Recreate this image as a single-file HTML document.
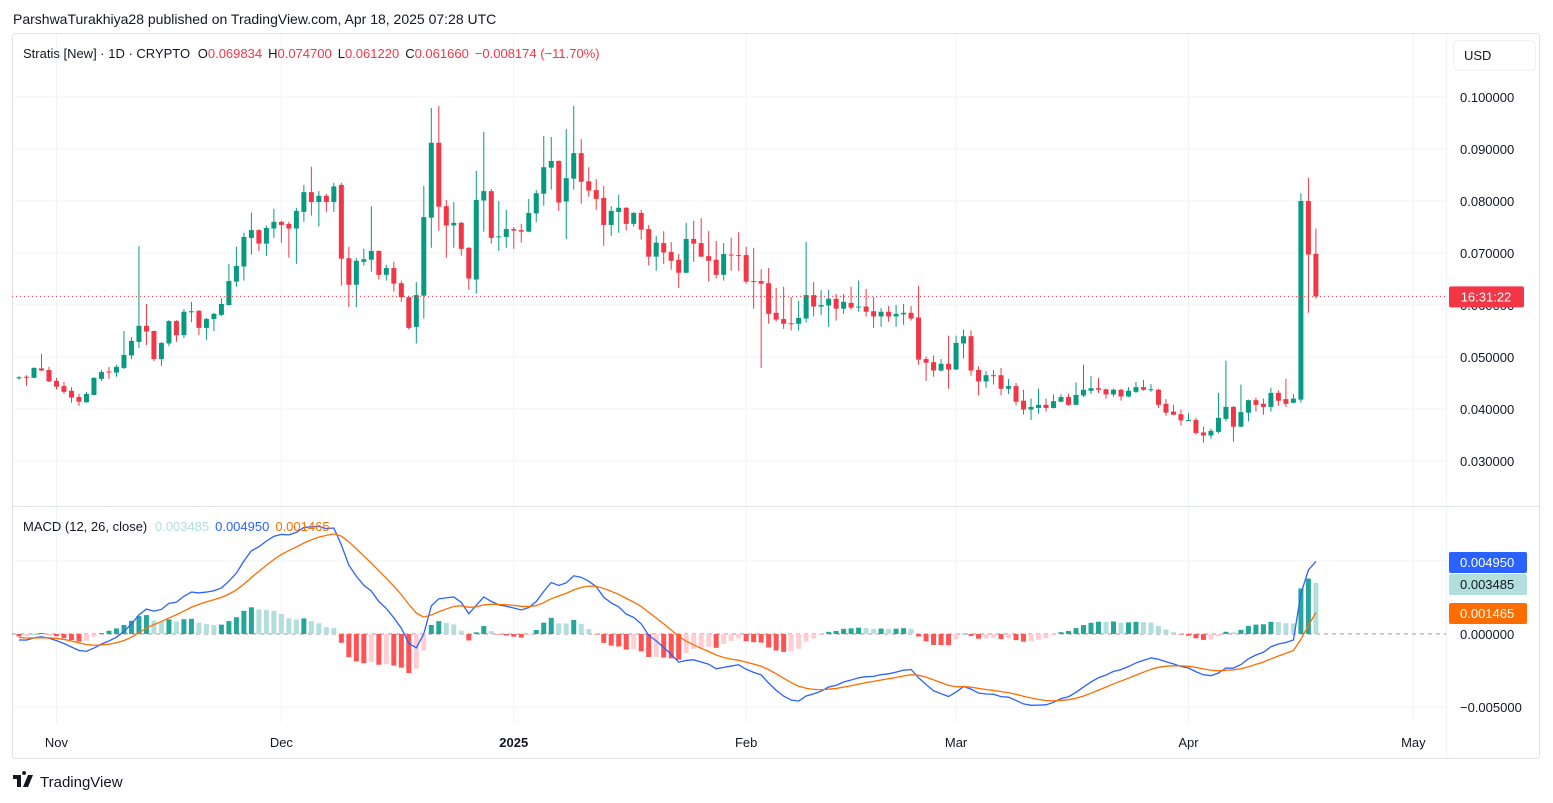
<!DOCTYPE html>
<html><head><meta charset="utf-8"><style>
html,body{margin:0;padding:0;background:#fff;}
svg{display:block;font-family:"Liberation Sans",sans-serif;}
</style></head><body>
<svg id="chart" width="1553" height="803" viewBox="0 0 1553 803" xmlns="http://www.w3.org/2000/svg">
<rect x="0" y="0" width="1553" height="803" fill="#fff"/>
<text x="13" y="24" font-size="14" fill="#131722">ParshwaTurakhiya28 published on TradingView.com, Apr 18, 2025 07:28 UTC</text>
<rect x="12.5" y="33.5" width="1527" height="725" fill="none" stroke="#e0e3eb" rx="3"/>
<g id="grid"></g>
<line x1="12" y1="506.5" x2="1540" y2="506.5" stroke="#e0e3eb"/>
<line x1="1446.5" y1="34" x2="1446.5" y2="758" stroke="#f0f3fa"/>
<g id="candles"></g>
<g id="macdpane"></g>
<g id="axes"></g>
<text x="23" y="58" font-size="13" fill="#131722">Stratis [New] · 1D · CRYPTO <tspan dx="4">O</tspan><tspan fill="#f23645">0.069834</tspan><tspan dx="6">H</tspan><tspan fill="#f23645">0.074700</tspan><tspan dx="6">L</tspan><tspan fill="#f23645">0.061220</tspan><tspan dx="6">C</tspan><tspan fill="#f23645">0.061660</tspan><tspan dx="6" fill="#f23645">−0.008174 (−11.70%)</tspan></text>
<text x="23" y="531" font-size="13" fill="#131722">MACD (12, 26, close) <tspan dx="4" fill="#b2dfdb">0.003485</tspan><tspan dx="6" fill="#2962ff">0.004950</tspan><tspan dx="6" fill="#ff6d00">0.001465</tspan></text>
<rect x="1453.5" y="40.5" width="82" height="30" rx="5" fill="#fff" stroke="#eef0f3"/>
<text x="1464" y="60" font-size="13" fill="#131722">USD</text>
<g>
<path d="M13 775 h8 v12 h-4 v-8 h-4z M24 775 a2 2 0 1 1 0.1 0z M28 775 h5 l-5 12 h-5z" fill="#131722"/>
<text x="40" y="787" font-size="15" fill="#131722">TradingView</text>
</g>
</svg>
<script>
const opens=[.0459,.0462,.0460,.0478,.0475,.0454,.0444,.0435,.0423,.0413,.0427,.0458,.0472,.0470,.0479,.0503,.0529,.0560,.0550,.0496,.0526,.0569,.0542,.0586,.0589,.0556,.0573,.0581,.0600,.0645,.0674,.0729,.0744,.0718,.0747,.0760,.0756,.0747,.0779,.0817,.0798,.0810,.0798,.0831,.0690,.0639,.0683,.0687,.0704,.0658,.0671,.0642,.0615,.0558,.0618,.0768,.0912,.0790,.0753,.0758,.0710,.0649,.0801,.0819,.0731,.0731,.0746,.0744,.0741,.0776,.0814,.0864,.0877,.0799,.0843,.0892,.0838,.0821,.0806,.0754,.0779,.0787,.0756,.0777,.0746,.0693,.0719,.0702,.0687,.0662,.0727,.0719,.0694,.0687,.0658,.0697,.0696,.0696,.0646,.0646,.0642,.0585,.0573,.0565,.0564,.0574,.0619,.0597,.0599,.0612,.0593,.0604,.0596,.0597,.0588,.0578,.0587,.0578,.0582,.0585,.0576,.0496,.0490,.0474,.0487,.0476,.0526,.0540,.0475,.0453,.0465,.0465,.0439,.0444,.0416,.0399,.0402,.0408,.0402,.0414,.0423,.0408,.0426,.0435,.0440,.0438,.0428,.0437,.0424,.0433,.0442,.0438,.0437,.0410,.0395,.0390,.0378,.0379,.0355,.0349,.0356,.0381,.0404,.0366,.0393,.0417,.0410,.0404,.0431,.0419,.0412,.0418,.0800,.069834];
const highs=[.0463,.0465,.0480,.0506,.0481,.0460,.0452,.0442,.0429,.0433,.0461,.0475,.0481,.0485,.0550,.0538,.0713,.0602,.0551,.0529,.0571,.0571,.0592,.0606,.0590,.0575,.0585,.0613,.0679,.0712,.0739,.0778,.0746,.0753,.0785,.0762,.0760,.0787,.0831,.0866,.0819,.0814,.0835,.0835,.0712,.0690,.0708,.0790,.0705,.0677,.0683,.0647,.0618,.0644,.0829,.0979,.0983,.0802,.0798,.0760,.0711,.0858,.0933,.0823,.0800,.0783,.0750,.0756,.0804,.0821,.0925,.0923,.0878,.0938,.0983,.0919,.0865,.0842,.0829,.0790,.0812,.0788,.0779,.0783,.0754,.0733,.0742,.0721,.0698,.0758,.0762,.0767,.0742,.0723,.0719,.0729,.0740,.0712,.0710,.0669,.0671,.0633,.0635,.0615,.0608,.0721,.0644,.0629,.0629,.0621,.0621,.0635,.0647,.0631,.0615,.0594,.0598,.0600,.0602,.0598,.0637,.0501,.0503,.0496,.0541,.0541,.0553,.0551,.0482,.0473,.0475,.0479,.0458,.0450,.0437,.0420,.0439,.0420,.0428,.0428,.0429,.0451,.0485,.0463,.0460,.0439,.0439,.0439,.0442,.0452,.0456,.0448,.0439,.0419,.0408,.0399,.0392,.0383,.0366,.0362,.0431,.0493,.0406,.0447,.0418,.0422,.0420,.0441,.0436,.0458,.0429,.0815,.0845,.0747];
const lows=[.0456,.0445,.0459,.0473,.0452,.0438,.0429,.0412,.0406,.0412,.0427,.0454,.0458,.0462,.0477,.0496,.0517,.0523,.0492,.0483,.0521,.0529,.0537,.0567,.0542,.0533,.0550,.0579,.0599,.0635,.0647,.0697,.0704,.0694,.0729,.0720,.0691,.0679,.0760,.0772,.0751,.0779,.0779,.0637,.0596,.0596,.0676,.0664,.0649,.0647,.0626,.0606,.0553,.0526,.0574,.0710,.0743,.0691,.0710,.0695,.0629,.0622,.0741,.0718,.0704,.0710,.0708,.0720,.0740,.0760,.0791,.0822,.0781,.0727,.0822,.0795,.0808,.0783,.0714,.0733,.0739,.0743,.0751,.0726,.0676,.0666,.0679,.0668,.0633,.0661,.0683,.0692,.0645,.0651,.0647,.0666,.0666,.0641,.0593,.0479,.0564,.0568,.0554,.0551,.0551,.0566,.0578,.0581,.0558,.0570,.0583,.0591,.0587,.0578,.0556,.0558,.0568,.0558,.0562,.0570,.0485,.0454,.0462,.0472,.0439,.0475,.0497,.0464,.0426,.0441,.0447,.0426,.0429,.0407,.0389,.0379,.0391,.0395,.0401,.0413,.0406,.0407,.0423,.0429,.0431,.0420,.0424,.0416,.0423,.0431,.0435,.0433,.0402,.0387,.0388,.0368,.0378,.0351,.0335,.0343,.0353,.0376,.0337,.0365,.0376,.0395,.0389,.0395,.0406,.0404,.0411,.0412,.0585,.061220];
const closes=[.0461,.0461,.0479,.0474,.0453,.0443,.0433,.0422,.0414,.0429,.0460,.0471,.0471,.0481,.0504,.0531,.0560,.0549,.0496,.0527,.0569,.0542,.0587,.0588,.0556,.0573,.0583,.0602,.0646,.0675,.0731,.0744,.0718,.0748,.0760,.0754,.0747,.0781,.0817,.0798,.0810,.0798,.0828,.0689,.0639,.0685,.0688,.0704,.0658,.0671,.0641,.0615,.0556,.0619,.0769,.0912,.0789,.0753,.0758,.0708,.0651,.0802,.0819,.0729,.0732,.0746,.0743,.0741,.0777,.0815,.0865,.0877,.0797,.0844,.0892,.0837,.0820,.0804,.0754,.0781,.0787,.0756,.0777,.0745,.0693,.0720,.0701,.0685,.0662,.0727,.0718,.0693,.0685,.0658,.0698,.0696,.0695,.0645,.0645,.0641,.0583,.0572,.0564,.0564,.0575,.0619,.0597,.0600,.0612,.0593,.0606,.0595,.0597,.0587,.0578,.0587,.0578,.0583,.0585,.0574,.0495,.0489,.0474,.0487,.0476,.0527,.0540,.0474,.0453,.0465,.0464,.0439,.0444,.0414,.0399,.0404,.0408,.0402,.0415,.0423,.0408,.0427,.0437,.0440,.0437,.0428,.0437,.0424,.0435,.0442,.0437,.0438,.0408,.0393,.0389,.0378,.0379,.0354,.0349,.0358,.0383,.0404,.0366,.0394,.0417,.0408,.0404,.0431,.0416,.0410,.0420,.0800,.0697,.061660];
const monthLabels=["Nov","Dec","2025","Feb","Mar","Apr","May"];
const monthIdx=[5,35,66,97,125,156,186];
const priceTicks=[0.03,0.04,0.05,0.06,0.07,0.08,0.09,0.10];
const macdTicks=[-0.005,0,0.005];
const macdPrinted=["0.004950","0.003485","0.001465"];
const emaSeeds=[0.0466,0.0470];
const signalSeed=[-0.0002];

const NS="http://www.w3.org/2000/svg";
function mk(tag,attrs,parent){const e=document.createElementNS(NS,tag);for(const k in attrs)e.setAttribute(k,attrs[k]);parent.appendChild(e);return e;}
const X=i=>19+i*7.4965;
const PY=p=>97+(0.1-p)*5200;
const MY=m=>634-m*14600;
const grid=document.getElementById('grid'),cg=document.getElementById('candles'),mg=document.getElementById('macdpane'),ax=document.getElementById('axes');

monthIdx.forEach((mi,k)=>{
  const l=mk('line',{x1:X(mi),x2:X(mi),y1:34,y2:723,stroke:'#f0f3fa'},grid);
  
  
  const t=mk('text',{x:X(mi),y:747,'font-size':13,fill:'#131722','text-anchor':'middle','font-weight':monthLabels[k]==='2025'?'bold':'normal'},ax);
  t.textContent=monthLabels[k];
  
  
});
priceTicks.forEach(p=>{
  const l=mk('line',{x1:12,x2:1446,y1:PY(p),y2:PY(p),stroke:'#f0f3fa'},grid);
  
  
  const t=mk('text',{x:1460,y:PY(p)+5,'font-size':13,fill:'#131722'},ax);
  t.textContent=p.toFixed(6);
  
  
});
macdTicks.forEach(m=>{
  if(m!==0){const l=mk('line',{x1:12,x2:1446,y1:MY(m),y2:MY(m),stroke:'#f0f3fa'},grid);
  
  }
  else{const l=mk('line',{x1:12,x2:1446,y1:MY(0),y2:MY(0),stroke:'#9598a1','stroke-dasharray':'4 4'},grid);
  
  }
  if(m>0) return;
  const t=mk('text',{x:1460,y:MY(m)+5,'font-size':13,fill:'#131722'},ax);
  t.textContent=(m<0?'−':'')+Math.abs(m).toFixed(6);
  
  
});

closes.forEach((c,i)=>{
  const o=opens[i],up=c>=o,col=up?'#089981':'#f23645',x=X(i);
  const w=mk('line',{x1:x,x2:x,y1:PY(highs[i]),y2:PY(lows[i]),stroke:col,'stroke-width':1},cg);
  
  
  const top=PY(Math.max(o,c)),bot=PY(Math.min(o,c));
  const b=mk('rect',{x:x-2.5,y:top,width:5,height:Math.max(1,bot-top),fill:col},cg);
  
  
});
const last=closes[closes.length-1];
const lp=mk('line',{x1:12,x2:1446,y1:PY(last),y2:PY(last),stroke:'#f23645','stroke-dasharray':'1 3'},cg);


const lr=mk('rect',{x:1449,y:PY(last)-10,width:75,height:21,fill:'#f23645',rx:2},ax);


const lt=mk('text',{x:1486,y:PY(last)+5,'font-size':13,fill:'#fff','text-anchor':'middle'},ax);
lt.textContent='16:31:22';



function ema(arr,n,seed){const k=2/(n+1);const out=[];let e=seed;arr.forEach(v=>{e=v*k+e*(1-k);out.push(e);});return out;}
const e12=ema(closes,12,emaSeeds[0]),e26=ema(closes,26,emaSeeds[1]);
const macd=closes.map((_,i)=>e12[i]-e26[i]);
const sig=ema(macd,9,signalSeed[0]);
const hist=macd.map((m,i)=>m-sig[i]);
hist.forEach((h,i)=>{
  const prev=i?hist[i-1]:0;
  const col=h>=0?(h>prev?'#26a69a':'#b2dfdb'):(h<prev?'#ff5252':'#ffcdd2');
  const y0=MY(0),y1=MY(h);
  const r=mk('rect',{x:X(i)-2.5,y:Math.min(y0,y1),width:5,height:Math.max(0.5,Math.abs(y1-y0)),fill:col},mg);
  
  
});
const ml=mk('polyline',{points:macd.map((m,i)=>X(i)+','+MY(m)).join(' '),fill:'none',stroke:'#2962ff','stroke-width':1.3},mg);


const sl=mk('polyline',{points:sig.map((m,i)=>X(i)+','+MY(m)).join(' '),fill:'none',stroke:'#ff6d00','stroke-width':1.3},mg);


const labs=[[552,'#2962ff','#fff'],[574,'#b2dfdb','#131722'],[603,'#ff6d00','#fff']];
labs.forEach((L,k)=>{
  const r=mk('rect',{x:1449,y:L[0],width:78,height:21,fill:L[1],rx:2},ax);
  
  
  const t=mk('text',{x:1460,y:L[0]+15,'font-size':13,fill:L[2]},ax);
  t.textContent=macdPrinted[k];
  
  
});
</script>
</body></html>
